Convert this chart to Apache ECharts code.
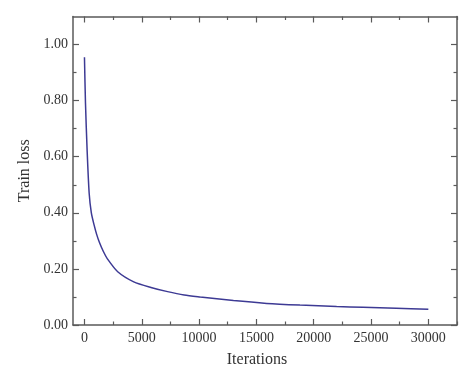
<!DOCTYPE html>
<html>
<head>
<meta charset="utf-8">
<script src="https://cdn.jsdelivr.net/npm/echarts@6/dist/echarts.min.js"></script>
<style>html,body{margin:0;padding:0;background:#fff;}#c{width:474px;height:383px;}</style>
</head>
<body>
<div id="c"></div>
<script>
const iterations = [0, 90, 235, 410, 600, 850, 1050, 1300, 1650, 2000, 2900, 4300, 5800, 7250, 8700, 10100, 13000, 15900, 18800, 22000, 24300, 27200, 30000];
const trainLoss = [0.955, 0.79, 0.62, 0.47, 0.40, 0.355, 0.325, 0.295, 0.262, 0.236, 0.19, 0.154, 0.134, 0.119, 0.107, 0.100, 0.087, 0.077, 0.071, 0.066, 0.063, 0.0595, 0.056];
const xTicks = [0, 5000, 10000, 15000, 20000, 25000, 30000];
const xMinorTicks = [2500, 7500, 12500, 17500, 22500, 27500, 32500];
const yTicks = [0, 0.2, 0.4, 0.6, 0.8, 1.0];
const yMinorTicks = [0.1, 0.3, 0.5, 0.7, 0.9];

const axisColor = '#5a5a5a';
const font = 'Liberation Serif';
const xr = {min: -1000, max: 32500};
const yr = {min: 0, max: 1.1};

function xAxisDef(pos, ticks, len, withLabel, withLine, name) {
  return {
    type: 'value', position: pos, ...xr,
    name: name || '', nameLocation: 'middle', nameGap: 27,
    nameTextStyle: {fontFamily: font, fontSize: 16, color: '#333', padding: [0, 16, 0, 0]},
    axisLine: {show: withLine, onZero: false, lineStyle: {color: axisColor, width: 1.5}},
    axisTick: {show: true, inside: true, length: len, customValues: ticks, lineStyle: {color: axisColor, width: 1.2}},
    axisLabel: {show: withLabel, customValues: ticks, fontFamily: font, fontSize: 14, color: '#333', margin: 6,
      formatter: v => String(v)},
    splitLine: {show: false}
  };
}
function yAxisDef(pos, ticks, len, withLabel, withLine, name) {
  return {
    type: 'value', position: pos, ...yr,
    name: name || '', nameLocation: 'middle', nameGap: 40,
    nameTextStyle: {fontFamily: font, fontSize: 16, color: '#333'},
    axisLine: {show: withLine, onZero: false, lineStyle: {color: axisColor, width: 1.5}},
    axisTick: {show: true, inside: true, length: len, customValues: ticks, lineStyle: {color: axisColor, width: 1.2}},
    axisLabel: {show: withLabel, customValues: ticks, fontFamily: font, fontSize: 14, color: '#333', margin: 5,
      formatter: v => v.toFixed(2)},
    splitLine: {show: false}
  };
}

const chart = echarts.init(document.getElementById('c'), null, {renderer: 'canvas'});
chart.setOption({
  backgroundColor: '#fff',
  animation: false,
  grid: {left: 73, top: 16.5, right: 17, bottom: 58, containLabel: false},
  xAxis: [
    xAxisDef('bottom', xTicks, 6, true, true, 'Iterations'),
    xAxisDef('top', xTicks, 6, false, true),
    xAxisDef('bottom', xMinorTicks, 3.5, false, false),
    xAxisDef('top', xMinorTicks, 3.5, false, false)
  ],
  yAxis: [
    yAxisDef('left', yTicks, 6, true, true, 'Train loss'),
    yAxisDef('right', yTicks, 6, false, true),
    yAxisDef('left', yMinorTicks, 3.5, false, false),
    yAxisDef('right', yMinorTicks, 3.5, false, false)
  ],
  series: [{
    type: 'line',
    xAxisIndex: 0, yAxisIndex: 0,
    data: iterations.map((x, i) => [x, trainLoss[i]]),
    smooth: 0.25,
    showSymbol: false,
    lineStyle: {color: '#3d3a94', width: 1.5}
  }]
});
</script>
</body>
</html>
